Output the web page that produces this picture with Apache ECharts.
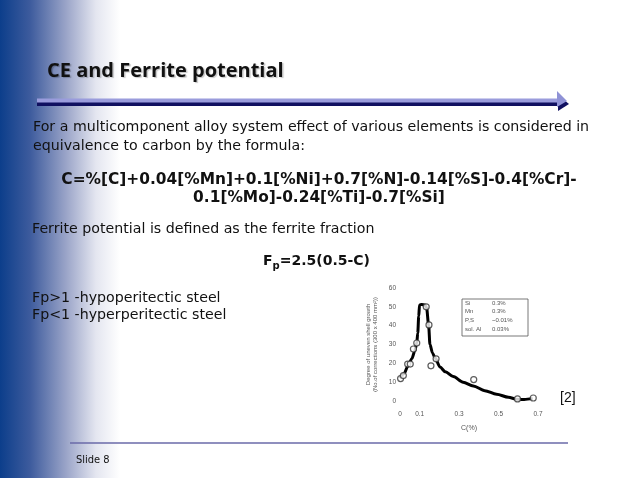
<!DOCTYPE html>
<html>
<head>
<meta charset="utf-8">
<script src="https://cdn.jsdelivr.net/npm/echarts@6/dist/echarts.min.js"></script>
<style>html,body{margin:0;padding:0;background:#fff}#c{width:638px;height:478px}</style>
</head>
<body>
<div id="c"></div>
<script>
// Measured points (C %, degree of uneven shell growth)
const measuredC = [0.003, 0.017, 0.039, 0.052, 0.068, 0.085, 0.133, 0.147, 0.157, 0.183, 0.374, 0.596, 0.676];
const measuredG = [11.9, 13.5, 19.6, 19.6, 27.6, 30.8, 50, 40.4, 18.7, 22.4, 11.4, 1.1, 1.6];
// Fitted curve
const curveC = [0, 0.02, 0.04, 0.06, 0.075, 0.085, 0.09, 0.095, 0.099, 0.11, 0.127, 0.135, 0.145, 0.152, 0.165, 0.178, 0.203, 0.23, 0.27, 0.32, 0.372, 0.43, 0.49, 0.55, 0.592, 0.63, 0.673];
const curveG = [12.1, 14.5, 18.5, 22.5, 26.5, 30.8, 36, 45, 51, 51.3, 51, 49.4, 40.5, 30, 25.5, 22.8, 18, 15.5, 13, 10, 8, 5.5, 3.6, 2, 0.9, 0.8, 1.4];
const xTickLabels = [0, 0.1, 0.3, 0.5, 0.7];
const compLabels = ['Si', 'Mn', 'P,S', 'sol. Al'];
const compValues = ['0.3%', '0.3%', '~0.01%', '0.03%'];

const chart = echarts.init(document.getElementById('c'), null, {renderer: 'canvas'});
const body = '"DejaVu Sans", Verdana, sans-serif';

const graphics = [
  {type: 'rect', z: -10, shape: {x: 0, y: 0, width: 120, height: 478},
   style: {fill: new echarts.graphic.LinearGradient(0, 0, 1, 0, [
     {offset: 0, color: '#0c3e8b'}, {offset: 0.25, color: '#3d5b9d'},
     {offset: 0.55, color: '#9aa4c8'}, {offset: 0.8, color: '#e4e6f0'}, {offset: 1, color: '#ffffff'}])}},
  // title
  {type: 'text', left: 47, top: 61, style: {text: 'CE and Ferrite potential', font: 'bold 20px "Open Sans", sans-serif', fill: '#111',
    textShadowColor: 'rgba(0,0,0,0.22)', textShadowOffsetX: 1.5, textShadowOffsetY: 1.5, textShadowBlur: 1}},
  // arrow
  {type: 'line', shape: {x1: 37, y1: 104, x2: 560, y2: 104}, style: {stroke: '#101060', lineWidth: 4}},
  {type: 'line', shape: {x1: 37, y1: 100.5, x2: 558, y2: 100.5}, style: {stroke: '#9a9cdc', lineWidth: 4}},
  {type: 'polygon', shape: {points: [[558, 95], [569, 104], [558, 111]]}, style: {fill: '#101060'}},
  {type: 'polygon', shape: {points: [[557, 91], [567, 101], [557, 107]]}, style: {fill: '#8f92d6'}},
  // body text
  {type: 'text', left: 33, top: 120, style: {text: 'For a multicomponent alloy system effect of various elements is considered in', font: '14.2px ' + body, fill: '#111'}},
  {type: 'text', left: 33, top: 139, style: {text: 'equivalence to carbon by the formula:', font: '14.2px ' + body, fill: '#111'}},
  {type: 'text', x: 319, y: 180, style: {text: 'C=%[C]+0.04[%Mn]+0.1[%Ni]+0.7[%N]-0.14[%S]-0.4[%Cr]-', font: 'bold 15.4px ' + body, fill: '#111', align: 'center', verticalAlign: 'middle'}},
  {type: 'text', x: 319, y: 198, style: {text: '0.1[%Mo]-0.24[%Ti]-0.7[%Si]', font: 'bold 15.4px ' + body, fill: '#111', align: 'center', verticalAlign: 'middle'}},
  {type: 'text', left: 32, top: 222, style: {text: 'Ferrite potential is defined as the ferrite fraction', font: '14.2px ' + body, fill: '#111'}},
  {type: 'text', left: 263, top: 254, style: {text: '{a|F}{b|p}{a|=2.5(0.5-C)}', fill: '#111',
    rich: {a: {fontFamily: body, fontWeight: 'bold', fontSize: 14, lineHeight: 20},
           b: {fontFamily: body, fontWeight: 'bold', fontSize: 10, lineHeight: 10, verticalAlign: 'bottom'}}}},
  {type: 'text', left: 32, top: 291, style: {text: 'Fp>1 -hypoperitectic steel', font: '14.2px ' + body, fill: '#111'}},
  {type: 'text', left: 32, top: 308, style: {text: 'Fp<1 -hyperperitectic steel', font: '14.2px ' + body, fill: '#111'}},
  // reference mark
  {type: 'text', left: 560, top: 391, style: {text: '[2]', font: '14px "Liberation Sans", Arial, sans-serif', fill: '#111'}},
  // footer
  {type: 'line', shape: {x1: 70, y1: 443, x2: 568, y2: 443}, style: {stroke: '#6a6aa8', lineWidth: 1.5}},
  {type: 'text', left: 76, top: 455, style: {text: 'Slide 8', font: '11px "DejaVu Sans Condensed", "DejaVu Sans", sans-serif', fill: '#111'}},
  // composition inset
  {type: 'rect', shape: {x: 462, y: 299, width: 66, height: 37}, style: {fill: '#fff', stroke: '#555', lineWidth: 0.8}}
];
compLabels.forEach((t, i) => {
  graphics.push({type: 'text', left: 465, top: 300 + i * 8.8, style: {text: t, font: '6px "Liberation Sans", sans-serif', fill: '#555'}});
  graphics.push({type: 'text', left: 492, top: 300 + i * 8.8, style: {text: compValues[i], font: '6px "Liberation Sans", sans-serif', fill: '#555'}});
});

chart.setOption({
  animation: false,
  backgroundColor: '#fff',
  grid: {left: 400, right: 100, top: 288, bottom: 77},
  xAxis: {
    type: 'value', min: 0, max: 0.7,
    name: 'C(%)', nameLocation: 'middle', nameGap: 24,
    nameTextStyle: {fontSize: 7, color: '#555', fontFamily: 'Liberation Sans'},
    axisLine: {show: false}, axisTick: {show: false}, splitLine: {show: false},
    axisLabel: {customValues: xTickLabels, fontSize: 6.5, color: '#555', margin: 10, fontFamily: 'Liberation Sans',
      formatter: v => String(v)}
  },
  yAxis: {
    type: 'value', min: 0, max: 60, interval: 10,
    name: 'Degree of uneven shell growth\n(No.of corrections (300 x 400 mm²))', nameLocation: 'middle', nameGap: 21, nameRotate: 90,
    nameTextStyle: {fontSize: 6, color: '#555', lineHeight: 7, fontFamily: 'Liberation Sans'},
    axisLine: {show: false}, axisTick: {show: false}, splitLine: {show: false},
    axisLabel: {fontSize: 6.5, color: '#555', margin: 4, fontFamily: 'Liberation Sans'}
  },
  series: [
    {type: 'line', data: curveC.map((c, i) => [c, curveG[i]]), showSymbol: false, smooth: 0.3, smoothMonotone: 'x',
     lineStyle: {color: '#000', width: 3}, clip: false, z: 2},
    {type: 'scatter', data: measuredC.map((c, i) => [c, measuredG[i]]), symbol: 'circle', symbolSize: 6,
     itemStyle: {color: '#fff', borderColor: '#333', borderWidth: 1.2}, z: 3}
  ],
  graphic: graphics
});
</script>
</body>
</html>
